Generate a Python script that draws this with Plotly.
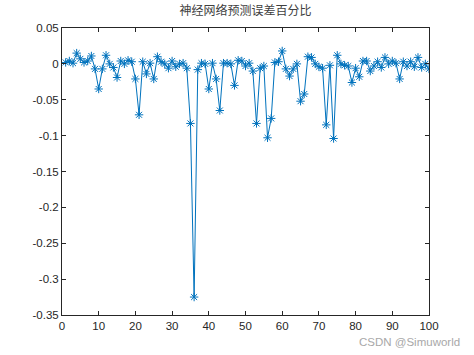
import plotly.graph_objects as go

x_index = list(range(1, 101))
error_pct = [
    0.002, 0.004, 0.001, 0.015, 0.007, 0.002, 0.004, 0.011, -0.007, -0.035,
    -0.007, 0.012, -0.000, -0.005, -0.019, 0.004, -0.000, 0.005, 0.003, -0.021,
    -0.071, 0.003, -0.014, 0.001, -0.021, 0.010, 0.003, -0.000, -0.006, 0.004,
    -0.004, -0.000, 0.001, -0.006, -0.083, -0.325, -0.008, 0.001, -0.000, -0.035,
    0.001, -0.021, -0.065, 0.001, 0.001, -0.000, -0.030, 0.005, 0.004, -0.003,
    0.001, -0.010, -0.083, -0.006, -0.003, -0.103, -0.076, 0.002, 0.003, 0.018,
    -0.007, -0.017, -0.007, -0.000, -0.052, -0.042, 0.010, 0.009, -0.000, -0.004,
    -0.006, -0.085, -0.002, -0.104, 0.012, -0.000, -0.002, -0.003, -0.026, -0.006,
    -0.018, 0.004, 0.004, -0.010, -0.003, 0.003, -0.005, 0.009, -0.000, 0.004,
    0.001, -0.021, 0.003, -0.003, 0.003, -0.004, 0.009, -0.005, -0.000, -0.007,
]

x_ticks = [0, 10, 20, 30, 40, 50, 60, 70, 80, 90, 100]
y_ticks = [0.05, 0, -0.05, -0.1, -0.15, -0.2, -0.25, -0.3, -0.35]
y_tick_labels = ["0.05", "0", "-0.05", "-0.1", "-0.15", "-0.2", "-0.25", "-0.3", "-0.35"]
title_text = "神经网络预测误差百分比"
watermark = "CSDN @Simuworld"

fig = go.Figure()
fig.add_trace(go.Scatter(
    x=x_index, y=error_pct, mode="lines+markers",
    line=dict(color="#0072BD", width=1),
    marker=dict(symbol="asterisk-open", size=7, color="#0072BD",
                line=dict(color="#0072BD", width=1)),
    showlegend=False,
))

axis_common = dict(
    showgrid=False, zeroline=False, showline=True, mirror="ticks",
    linecolor="#262626", linewidth=1, ticks="inside", ticklen=4,
    tickcolor="#262626", tickfont=dict(family="Liberation Sans, Arial", size=11.5, color="#262626"),
)
fig.update_xaxes(range=[0, 100], tickvals=x_ticks, ticktext=[str(v) for v in x_ticks], **axis_common)
fig.update_yaxes(range=[-0.35, 0.05], tickvals=y_ticks, ticktext=y_tick_labels, **axis_common)

fig.update_layout(
    width=474, height=355,
    margin=dict(l=62, r=45, t=28, b=40),
    paper_bgcolor="white", plot_bgcolor="white",
    title=dict(text=title_text, x=0.5, xref="paper", xanchor="center",
               y=1, yref="container", yanchor="top", pad=dict(t=7),
               font=dict(family="Noto Sans CJK SC", size=12, color="#404040")),
)
fig.add_annotation(text=watermark, xref="paper", yref="paper", x=1.09, y=-0.094,
                   xanchor="right", yanchor="middle", showarrow=False,
                   font=dict(family="Liberation Sans, Arial", size=11.5, color="#a8a8a8"))

fig.write_html("out.html")
